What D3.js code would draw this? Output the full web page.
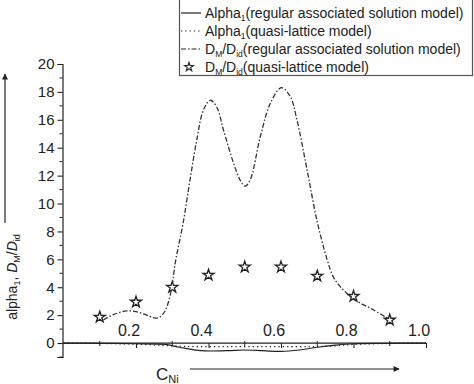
<!DOCTYPE html>
<html><head><meta charset="utf-8">
<script src="https://cdn.jsdelivr.net/npm/d3@7"></script>
<style>html,body{margin:0;padding:0;background:#fff;}svg{display:block;font-family:"Liberation Sans",Arial,sans-serif;}</style>
</head><body>
<svg id="c" width="474" height="384"></svg>
<script>
// ---- data ----
const xTicks = [0.2, 0.4, 0.6, 0.8, 1.0];
const xTickLabels = ["0.2", "0.4", "0.6", "0.8", "1.0"];
const yTicks = [0, 2, 4, 6, 8, 10, 12, 14, 16, 18, 20];

// D_M/D_id (regular associated solution model) - dash-dot
const dmRegX = [0.11,0.13,0.15,0.175,0.2,0.225,0.25,0.265,0.28,0.295,0.31,0.33,0.349,0.368,0.386,0.405,0.423,0.441,0.469,0.487,0.501,0.515,0.543,0.571,0.601,0.625,0.644,0.672,0.699,0.727,0.745,0.765,0.8,0.85,0.896];
const dmRegY = [1.65,1.95,2.15,2.3,2.25,2.05,1.8,1.85,2.3,3.5,6.0,8.6,11.7,14.6,16.7,17.4,16.9,15.3,12.9,11.7,11.25,11.7,14.8,17.2,18.3,17.7,16.0,12.4,8.8,6.0,4.7,4.0,3.15,2.45,1.75];

// D_M/D_id (quasi-lattice model) - stars
const dmQlX = [0.1,0.2,0.3,0.4,0.5,0.6,0.7,0.8,0.9];
const dmQlY = [1.86,2.94,4.0,4.87,5.45,5.45,4.8,3.35,1.65];

// Alpha1 (regular associated solution model) - solid
const a1RegX = [0.0,0.1,0.2,0.28,0.32,0.38,0.45,0.5,0.55,0.6,0.65,0.7,0.75,0.8,0.9,1.0];
const a1RegY = [0,-0.02,-0.05,-0.1,-0.3,-0.55,-0.55,-0.5,-0.55,-0.6,-0.5,-0.3,-0.15,-0.05,-0.02,0];

// Alpha1 (quasi-lattice model) - dotted
const a1QlX = [0.0,0.1,0.2,0.3,0.35,0.45,0.55,0.65,0.7,0.75,0.8,0.9,1.0];
const a1QlY = [0,-0.03,-0.08,-0.2,-0.25,-0.25,-0.25,-0.25,-0.25,-0.2,-0.1,-0.03,0];

const legendLabels = [
  ["Alpha","1","(regular associated solution model)"],
  ["Alpha","1","(quasi-lattice model)"],
  ["D","M","/","D","id","(regular associated solution model)"],
  ["D","M","/","D","id","(quasi-lattice model)"]
];

// ---- drawing ----
const svg = d3.select("#c");
const ink = "#222";
const x = d3.scaleLinear().domain([0,1]).range([63.5,426]);
const y = d3.scaleLinear().domain([-1,20]).range([357,64]);

const zip = (xs, ys) => xs.map((v,i)=>[v, ys[i]]);
const line = d3.line().x(d=>x(d[0])).y(d=>y(d[1])).curve(d3.curveCatmullRom.alpha(0.5));

// Y axis
const yAxis = d3.axisLeft(y).tickValues(yTicks).tickSize(5).tickPadding(3).tickFormat(d3.format("d"));
const gy = svg.append("g").attr("transform", `translate(${x(0)-1},0)`).call(yAxis);
gy.select(".domain").attr("stroke", ink).attr("stroke-width",1.2);
gy.selectAll(".tick line").attr("stroke", ink).attr("stroke-width",1.1);
gy.selectAll(".tick text").attr("fill", ink).attr("font-size",15).attr("font-family","Liberation Sans, Arial, sans-serif");
const yMinor = d3.range(-1, 20, 2);
gy.selectAll(".minor").data(yMinor).enter().append("line")
  .attr("x1",-3).attr("x2",0).attr("y1",d=>y(d)).attr("y2",d=>y(d)).attr("stroke",ink).attr("stroke-width",1);

// X axis (at y=0)
const xAxis = d3.axisBottom(x).tickValues(xTicks).tickSize(5).tickFormat("");
const gx = svg.append("g").attr("transform", `translate(0,${y(0)})`).call(xAxis);
gx.select(".domain").attr("stroke", ink).attr("stroke-width",1.2).attr("d", `M${x(0)-1},0H${x(1)}`);
gx.selectAll(".tick line").attr("stroke", ink).attr("stroke-width",1.1);
const xMinor = [0.1,0.3,0.5,0.7,0.9];
gx.selectAll(".minor").data(xMinor).enter().append("line")
  .attr("x1",d=>x(d)).attr("x2",d=>x(d)).attr("y1",-2).attr("y2",3).attr("stroke",ink).attr("stroke-width",1);
gx.selectAll(".lbl").data(xTicks).enter().append("text")
  .attr("x",(d)=>x(d)-7).attr("y",-7).attr("text-anchor","middle")
  .attr("font-size",16).attr("fill",ink).text((d,i)=>xTickLabels[i]);

// curves
svg.append("path").datum(zip(a1RegX,a1RegY)).attr("d",line).attr("fill","none").attr("stroke",ink).attr("stroke-width",1.2);
svg.append("path").datum(zip(a1QlX,a1QlY)).attr("d",line).attr("fill","none").attr("stroke",ink).attr("stroke-width",1.2).attr("stroke-dasharray","1.3,3");
svg.append("path").datum(zip(dmRegX,dmRegY)).attr("d",line).attr("fill","none").attr("stroke","#333").attr("stroke-width",1.3).attr("stroke-dasharray","5,2,1.5,2");

const star = d3.symbol().type(d3.symbolStar).size(38);
svg.selectAll(".star").data(zip(dmQlX,dmQlY)).enter().append("path")
  .attr("d",star).attr("transform",d=>`translate(${x(d[0])},${y(d[1])})`)
  .attr("fill","#fff").attr("stroke",ink).attr("stroke-width",1.3);

// legend
const lg = svg.append("g");
lg.append("rect").attr("x",179.5).attr("y",-1).attr("width",293).attr("height",76.5)
  .attr("fill","#fff").attr("stroke","#555").attr("stroke-width",1.2);
const rowY = [13, 31, 49, 67];
const styles = [{dash:null},{dash:"1.3,3"},{dash:"5,2,1.5,2"},{star:true}];
rowY.forEach((ry,i)=>{
  const s = styles[i];
  if (s.star) {
    lg.append("path").attr("d",d3.symbol().type(d3.symbolStar).size(24)).attr("transform",`translate(189,${ry})`)
      .attr("fill","#fff").attr("stroke",ink).attr("stroke-width",1.1);
  } else {
    lg.append("line").attr("x1",181).attr("x2",201).attr("y1",ry).attr("y2",ry)
      .attr("stroke",ink).attr("stroke-width",1.2).attr("stroke-dasharray",s.dash);
  }
  const t = lg.append("text").attr("x",205).attr("y",ry+4.5).attr("font-size",14).attr("fill",ink);
  const parts = legendLabels[i];
  if (parts.length === 3) {
    t.append("tspan").text(parts[0]);
    t.append("tspan").attr("dy",3).attr("font-size",8.5).text(parts[1]);
    t.append("tspan").attr("dy",-3).text(parts[2]);
  } else {
    t.append("tspan").text(parts[0]);
    t.append("tspan").attr("dy",3).attr("font-size",8.5).text(parts[1]);
    t.append("tspan").attr("dy",-3).text(parts[2]);
    t.append("tspan").text(parts[3]);
    t.append("tspan").attr("dy",3).attr("font-size",8.5).text(parts[4]);
    t.append("tspan").attr("dy",-3).text(parts[5]);
  }
});

// arrow markers
const defs = svg.append("defs");
defs.append("marker").attr("id","ah").attr("viewBox","0 0 10 10").attr("refX",9).attr("refY",5)
  .attr("markerWidth",7).attr("markerHeight",6).attr("markerUnits","userSpaceOnUse").attr("orient","auto")
  .append("path").attr("d","M0,0L10,5L0,10Z").attr("fill",ink);

// y title
const yt = svg.append("text").attr("transform","translate(17,277) rotate(-90)")
  .attr("text-anchor","middle").attr("font-size",14).attr("fill",ink);
yt.append("tspan").text("alpha");
yt.append("tspan").attr("dy",3).attr("font-size",9).text("1");
yt.append("tspan").attr("dy",-3).text(", ");
yt.append("tspan").attr("font-style","italic").text("D");
yt.append("tspan").attr("dy",3).attr("font-size",9).text("M");
yt.append("tspan").attr("dy",-3).text("/");
yt.append("tspan").attr("font-style","italic").text("D");
yt.append("tspan").attr("dy",3).attr("font-size",9).text("id");
svg.append("line").attr("x1",5).attr("x2",5).attr("y1",223).attr("y2",74)
  .attr("stroke",ink).attr("stroke-width",1.2).attr("marker-end","url(#ah)");

// x title
const xt = svg.append("text").attr("x",156).attr("y",380).attr("font-size",17).attr("fill",ink);
xt.append("tspan").text("C");
xt.append("tspan").attr("dy",3).attr("font-size",11).text("Ni");
svg.append("line").attr("x1",190).attr("x2",399).attr("y1",369).attr("y2",369)
  .attr("stroke",ink).attr("stroke-width",1.2).attr("marker-end","url(#ah)");
</script>
</body></html>
